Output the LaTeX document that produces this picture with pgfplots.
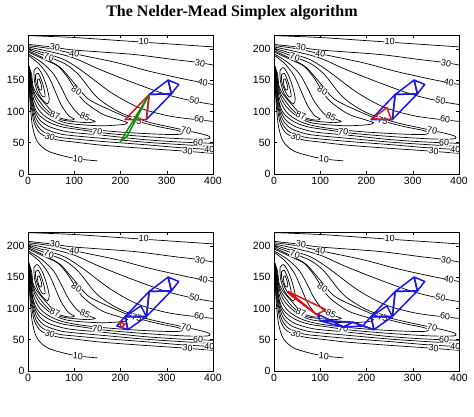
\documentclass[border=0pt]{standalone}
\usepackage{pgfplots}
\pgfplotsset{compat=1.18}
\usepackage{fontspec}
\setmainfont{Liberation Sans}
\newfontfamily\titlefont{Liberation Serif}

\definecolor{sblue}{RGB}{25,25,225}
\definecolor{sred}{RGB}{225,20,20}
\definecolor{sgreen}{RGB}{20,140,20}

\pgfplotsset{
  nm/.style={anchor=south west, width=185pt, height=139pt, scale only axis,
    xmin=0, xmax=400, ymin=0, ymax=222,
    xtick={0,100,200,300,400}, ytick={0,50,100,150,200},
    tick align=inside, major tick length=3pt,
    tick style={black,line width=0.4pt}, axis line style={black,line width=0.5pt},
    ticklabel style={font=\fontsize{10.5}{10.5}\selectfont},
    /pgf/number format/assume math mode=true, clip=true},
  cl/.style={black, line width=0.7pt, smooth, tension=0.5, mark=none},
  bl/.style={sblue, line width=1.5pt, mark=none, line join=round, line cap=round},
  rd/.style={sred, line width=1.5pt, mark=none, line join=round, line cap=round},
  gr/.style={sgreen, line width=1.5pt, mark=none, line join=round, line cap=round},
}
\tikzset{lab/.style={fill=white, inner sep=0.2pt, font=\fontsize{9}{9}\selectfont}}

\newcommand\contours{%
  % level 10
  \addplot[cl] coordinates {(0,221) (100,218) (200,213) (300,208) (400,203)};
  \addplot[cl] coordinates {(0,185) (1.5,160) (2.5,140) (4,120) (6,100) (10,75) (20,52) (45,36) (100,25) (150,21)};
  % level 30
  \addplot[cl] coordinates {(0,207) (50,203) (100,198) (227,191) (313,183) (370,178) (400,174)};
  \addplot[cl] coordinates {(0,183) (2,160) (3,140) (5,120) (8.5,100) (14,80) (28,64) (60,55) (100,51) (160,46) (250,41) (330,37) (400,33)};
  % level 40
  \addplot[cl] coordinates {(0,205) (50,200) (100,192) (191,178) (263,164) (342,151) (400,143)};
  \addplot[cl] coordinates {(0,182) (2.5,160) (3.7,140) (6,120) (10.5,100) (17,82) (32,68) (65,59) (100,56) (160,52) (250,47) (330,42) (400,39)};
  % level 50
  \addplot[cl] coordinates {(0,203) (50,195) (100,185) (155,167) (227,146) (299,127) (360,116) (400,111)};
  \addplot[cl] coordinates {(0,181) (3,160) (4.5,140) (7.5,120) (12.5,100) (21,84) (38,72) (70,64) (100,61) (160,57) (250,51) (330,47) (400,44)};
  % level 60
  \addplot[cl] coordinates {(0,201) (40,192) (80,182) (120,163) (180,130) (240,106) (310,92) (400,84)};
  \addplot[cl] coordinates {(0,180) (3.5,160) (5.5,140) (9,120) (15,100) (26,86) (45,76) (75,69) (100,66) (160,62) (250,55) (330,51) (400,49)};
  % level 70
  \addplot[cl] coordinates {(0,199) (40,188) (80,176) (110,158) (150,122) (200,98) (260,83) (320,73) (370,65) (392,60) (388,56) (340,56) (250,60) (170,65) (110,71) (75,75) (50,81) (32,89) (18,100) (10,118) (6.5,140) (4,160) (0,179)};
  % level 75
  \addplot[cl] coordinates {(0,197) (40,183) (70,170) (100,145) (130,120) (175,103) (230,86) (280,76) (320,70) (335,66) (322,63) (270,64) (200,67) (140,71) (100,75) (70,80) (48,87) (32,95) (21,105) (12,120) (7.5,140) (4.5,160) (0,178)};
  % level 80
  \addplot[cl] coordinates {(0,195) (35,183) (65,172) (85,155) (100,138) (120,117) (160,96) (200,86) (215,82) (205,79) (160,77) (110,79) (80,82) (56,89) (40,98) (26,108) (15,122) (8.5,140) (5,160) (0,177)};
  % level 85
  \addplot[cl] coordinates {(0,192) (30,178) (55,160) (72,138) (88,115) (110,95) (135,87) (145,84) (130,82) (95,84) (70,87) (52,95) (38,104) (26,115) (16,126) (9.5,140) (6,160) (0,176)};
  % level 87
  \addplot[cl] coordinates {(0,190) (25,175) (45,155) (60,130) (72,110) (88,93) (100,88) (90,86) (68,90) (54,98) (42,108) (30,118) (19,128) (11,140) (7.5,160) (0,175)};
  % peak loops
  \addplot[cl] coordinates {(13,165) (20,170) (30,160) (40,140) (46,120) (42,112) (32,118) (21,130) (14,148) (13,165)};
  \addplot[cl] coordinates {(16,158) (22,161) (29,150) (35,135) (37,124) (31,124) (23,134) (17,147) (16,158)};
  \addplot[cl] coordinates {(20,150) (24,152) (28,144) (30,136) (26,134) (22,140) (20,150)};
  % labels
  \node[lab,rotate=-2] at (axis cs:250,211) {10};
  \node[lab,rotate=-9] at (axis cs:372,177) {30};
  \node[lab,rotate=-11] at (axis cs:378,146) {40};
  \node[lab,rotate=-14] at (axis cs:360,117) {50};
  \node[lab,rotate=-7] at (axis cs:370,87) {60};
  \node[lab,rotate=-12] at (axis cs:342,69.5) {70};
  \node[lab,rotate=-16] at (axis cs:235,85) {75};
  \node[lab,rotate=-30] at (axis cs:105,133) {80};
  \node[lab,rotate=-25] at (axis cs:123,91.5) {85};
  \node[lab,rotate=-20] at (axis cs:58,93) {87};
  \node[lab,rotate=-8] at (axis cs:150,67.5) {70};
  \node[lab,rotate=-18] at (axis cs:47,59.5) {30};
  \node[lab,rotate=-5] at (axis cs:108,24) {10};
  \node[lab,rotate=-4] at (axis cs:368,50.5) {60};
  \node[lab,rotate=-4] at (axis cs:392,39.5) {40};
  \node[lab,rotate=-4] at (axis cs:345,36.5) {30};
  \node[lab,rotate=-6] at (axis cs:58,202.5) {30};
  \node[lab,rotate=-8] at (axis cs:100,192) {40};
  \node[lab,rotate=-15] at (axis cs:45,186.5) {70};
}
\newcommand\Bone{\addplot[bl] coordinates {(303,150) (326,143) (310,128) (303,150)};}
\newcommand\Btwo{\addplot[bl] coordinates {(303,150) (310,128) (262,127) (303,150)};}
\newcommand\Bthree{\addplot[bl] coordinates {(262,127) (310,128) (256,87) (262,127)};}
\newcommand\Bfour{\addplot[bl] coordinates {(262,127) (256,87) (210,87) (262,127)};}
\newcommand\Bfive{\addplot[bl] coordinates {(210,87) (244,104) (256,87) (210,87)};}
\newcommand\Bsix{\addplot[bl] coordinates {(210,87) (256,87) (216,66) (210,87)};}
\newcommand\Bseven{\addplot[bl] coordinates {(210,87) (216,66) (192,72) (210,87)};}
\newcommand\Beight{\addplot[bl] coordinates {(192,72) (216,66) (170,78) (192,72)};}
\newcommand\Bnine{\addplot[bl] coordinates {(192,72) (170,78) (150,70) (192,72)};}
\newcommand\Bten{\addplot[bl] coordinates {(170,78) (150,70) (125,80) (170,78)};}
\newcommand\Beleven{\addplot[bl] coordinates {(150,70) (125,80) (100,80) (150,70)};}
\newcommand\Btwelve{\addplot[bl] coordinates {(125,80) (100,80) (94,91) (125,80)};}

\begin{document}
\begin{tikzpicture}
\useasboundingbox (0pt,-417pt) rectangle (474pt,0pt);
\node[font=\titlefont\bfseries\fontsize{16}{18}\selectfont] at (232pt,-13pt) {The Nelder-Mead Simplex algorithm};

\begin{axis}[nm, at={(28pt,-174pt)}]
\contours
\Bone \Btwo \Bthree
\addplot[rd] coordinates {(262,127) (256,87) (210,87) (262,127)};
\addplot[gr] coordinates {(262,127) (200,52) (214,60) (262,127)};
\end{axis}

\begin{axis}[nm, at={(274pt,-174pt)}]
\contours
\Bone \Btwo \Bthree \Bfour
\addplot[rd] coordinates {(212,88) (244,106) (254,87) (212,88)};
\end{axis}

\begin{axis}[nm, at={(28pt,-371pt)}]
\contours
\Bone \Btwo \Bthree \Bfour \Bfive \Bsix \Bseven
\addplot[rd] coordinates {(198,78) (210,75) (202,69) (198,78)};
\end{axis}

\begin{axis}[nm, at={(274pt,-371pt)}]
\contours
\Bone \Btwo \Bthree \Bfour \Bfive \Bsix \Bseven \Beight \Bnine \Bten \Beleven \Btwelve
\addplot[rd] coordinates {(31,127) (112,98) (92,90) (31,127)};
\addplot[rd] coordinates {(31,127) (36,121) (92,90) (31,127)};
\end{axis}
\end{tikzpicture}
\end{document}
